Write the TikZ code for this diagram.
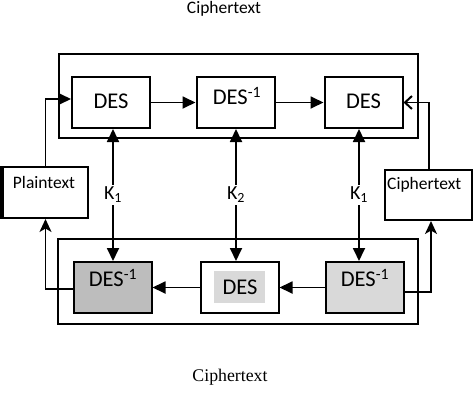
\documentclass[tikz,border=0pt]{standalone}
\usepackage{fontspec}
\setmainfont{Carlito}
\newfontfamily\serifface{Liberation Serif}
\usetikzlibrary{arrows.meta,calc}
\definecolor{darkg}{HTML}{BDBDBD}
\definecolor{lightg}{HTML}{D9D9D9}
\tikzset{
  desbox/.style={draw, line width=2pt, minimum width=78pt, minimum height=51pt, inner sep=0pt},
  destxt/.style={font=\fontsize{22.5}{26}\selectfont, inner sep=0pt},
  frame/.style={draw, line width=2pt},
  conn/.style={line width=1.8pt},
  tri/.style={-{Triangle[length=13pt,width=12pt]}},
  tritri/.style={{Triangle[length=13pt,width=12pt]}-{Triangle[length=13pt,width=12pt]}},
  barb/.style={-{Straight Barb[length=7pt,width=13pt,line width=2pt]}},
  stl/.style={-{Stealth[length=13pt,width=12pt,inset=3.5pt]}},
  lbl/.style={font=\fontsize{17.5}{20}\selectfont, inner sep=1pt},
  keylbl/.style={font=\fontsize{20}{22}\selectfont, fill=white, inner sep=2pt},
}
\begin{document}
\begin{tikzpicture}[x=1pt,y=-1pt]
\useasboundingbox (0,0) rectangle (474,413);
% titles
\node[lbl] (ttop) at (224,9) {Ciphertext};
\node[lbl, font=\serifface\fontsize{17.8}{20}\selectfont] (tbot) at (230,377) {Ciphertext};
% frames
\draw[frame] (59,54) rectangle (418,138);
\draw[frame] (58,239) rectangle (418,324);
% top row
\node[desbox] (d1) at (111,102.5) {};
\node[desbox] (d2) at (235.5,102.5) {};
\node[desbox] (d3) at (363.5,102.5) {};
\node[destxt] (t1) at (111,101) {DES};
\node[destxt] (t2) at (237,96) {DES\textsuperscript{-1}};
\node[destxt] (t3) at (363.5,101) {DES};
% bottom row
\node[desbox, fill=darkg] (b1) at (112.5,287.5) {};
\node[desbox] (b2) at (239.5,287.5) {};
\node[desbox, fill=lightg] (b3) at (364.5,287.5) {};
\node[fill=lightg, minimum width=51pt, minimum height=32pt, inner sep=0pt] (b2in) at (239.5,287) {};
\node[destxt] (s1) at (113,278) {DES\textsuperscript{-1}};
\node[destxt] (s2) at (240,287) {DES};
\node[destxt] (s3) at (365,278) {DES\textsuperscript{-1}};
% side boxes
\node[draw, line width=2pt, minimum width=85pt, minimum height=51pt, inner sep=0pt] (pt) at (45.5,192.5) {};
\draw[line width=3.2pt] (pt.north west) -- (pt.south west);
\node[lbl] (ptt) at (44,182) {Plaintext};
\node[draw, line width=2pt, minimum width=87pt, minimum height=50pt, inner sep=0pt] (ct) at (428.5,195) {};
\node[lbl, anchor=west] (ctt) at (386,185) {Ciphertext};
% top connectors
\draw[conn, tri] (pt.north) |- ([yshift=3.5pt]d1.west);
\draw[conn, tri] (d1.east) -- (d2.west);
\draw[conn, tri] (d2.east) -- (d3.west);
\draw[conn, barb] ([xshift=0.5pt]ct.north) |- (d3.east);
% keys
\draw[conn, tritri] ([xshift=2pt]d1.south) -- node[keylbl] (k1) {K\textsubscript{1}} ([xshift=2pt]d1.south |- b1.north);
\draw[conn, tritri] ([xshift=0.5pt]d2.south) -- node[keylbl] (k2) {K\textsubscript{2}} ([xshift=0.5pt]d2.south |- b2.north);
\draw[conn, tritri] ([xshift=-4.5pt]d3.south) -- node[keylbl] (k3) {K\textsubscript{1}} ([xshift=-4.5pt]d3.south |- b3.north);
% bottom connectors
\draw[conn, tri] (b3.west) -- (b2.east);
\draw[conn, tri] (b2.west) -- (b1.east);
\draw[conn, stl] ([yshift=-1.5pt]b1.west) -| (pt.south);
\draw[conn, stl] ([yshift=-4.5pt]b3.east) -| ([xshift=2.5pt]ct.south);
\end{tikzpicture}
\end{document}
